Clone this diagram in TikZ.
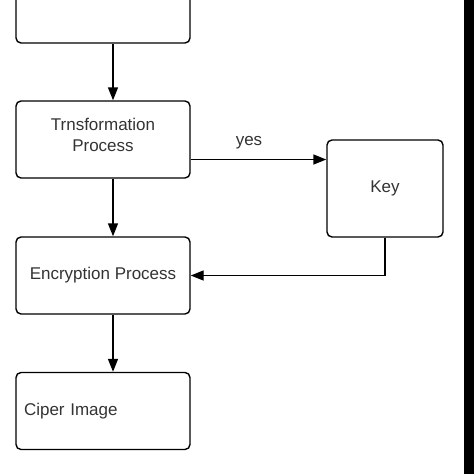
\documentclass[tikz,border=0pt]{standalone}
\usepackage{fontspec}
\setmainfont{Liberation Sans}
\usetikzlibrary{arrows.meta}

\begin{document}
\begin{tikzpicture}[x=1pt, y=-1pt, every node/.style={font=\fontsize{17}{21}\selectfont, text=black!80},
  box/.style={draw, line width=1.4pt, rounded corners=5pt, minimum width=174pt, minimum height=77pt, align=center, inner sep=0pt},
  arrow/.style={-{Triangle[length=13pt, width=10pt]}, line width=1.4pt}]
  \useasboundingbox (0,0) rectangle (474,474);
  \clip (0,0) rectangle (474,474);
  \fill[black] (464,0) rectangle (474,474);

  \node[box, minimum height=78pt] (input) at (103,4) {};
  \node[box] (trans) at (103,139.5) {Trnsformation\\Process\\[-12pt]};
  \node[box] (enc) at (103,275.5) {Encryption Process};
  \node[box, text width=158pt, inner xsep=8pt, align=left] (ciper) at (103,411) {Ciper Image};
  \node[box, minimum width=116pt, minimum height=97pt] (key) at (385,188.5) {Key};

  \draw[arrow] ([xshift=10pt]input.south) -- ([xshift=10pt]trans.north);
  \draw[arrow] ([xshift=10pt]trans.south) -- ([xshift=10pt]enc.north);
  \draw[arrow] ([xshift=10pt]enc.south) -- ([xshift=10pt]ciper.north);
  \draw[arrow] ([yshift=-20pt]trans.east) -- node[pos=0.43, above=6pt] {yes} ([yshift=-20pt]trans.east -| key.west);
  \draw[arrow] (key.south) |- (enc.east);
\end{tikzpicture}
\end{document}
